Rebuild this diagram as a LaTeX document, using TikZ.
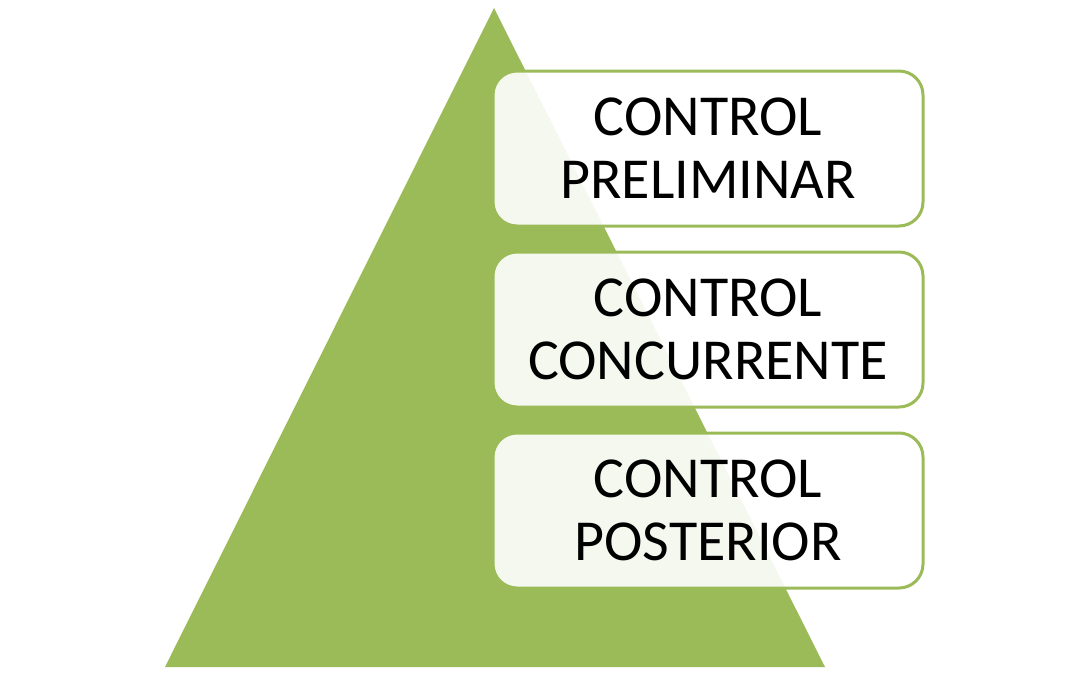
\documentclass[tikz,border=0pt]{standalone}
\usepackage{fontspec}
\setmainfont{Carlito}
\usetikzlibrary{positioning}
\definecolor{leaf}{HTML}{9BBB59}

\begin{document}
\begin{tikzpicture}[
    x=1pt, y=-1pt,
    font=\fontsize{58}{63}\selectfont,
    stage/.style={draw=leaf, line width=3pt, rounded corners=24pt, fill=white, fill opacity=0.9, text opacity=1,
      minimum width=430pt, minimum height=155pt, align=center, inner sep=0pt},
  ]
    \useasboundingbox (0,0) rectangle (1081,673);
    \fill[leaf] (494,8) coordinate (apex) -- (825,667) coordinate (right) -- (165,667) coordinate (left) -- cycle;

    \node[stage] (pre) at (708,148.5) {CONTROL\\PRELIMINAR};
    \node[stage, below=23pt of pre] (con) {CONTROL\\CONCURRENTE};
    \node[stage, below=23pt of con] (post) {CONTROL\\POSTERIOR};
  \end{tikzpicture}
\end{document}
